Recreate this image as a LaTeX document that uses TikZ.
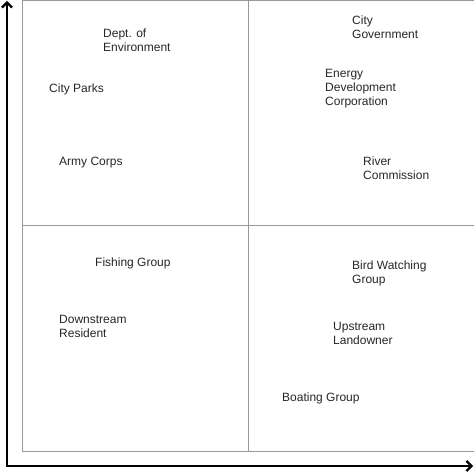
\documentclass[tikz,border=0pt]{standalone}
\usepackage{fontspec}
\usetikzlibrary{arrows.meta}
\setmainfont{Liberation Sans}
\begin{document}
\begin{tikzpicture}[x=1pt,y=-1pt,
  lbl/.style={align=left,anchor=north west,inner sep=0pt,font=\fontsize{12}{14}\selectfont,text=black!85},
  grid/.style={draw=black!40,line width=0.8pt},
  ax/.style={line width=2.2pt,-{Straight Barb[length=5pt,width=10pt]}}]
\useasboundingbox (0,0) rectangle (474,473);
\draw[grid] (22,0) rectangle (480,451);
\draw[grid] (248,0) -- (248,451);
\draw[grid] (22,225) -- (480,225);
\coordinate (o) at (7,466);
\coordinate (xe) at (473,466);
\coordinate (ye) at (7,1);
\draw[ax,line cap=butt] (7,465) -- (ye);
\draw[ax] (6,466) -- (xe);
\node[lbl] (a) at (103,29) {Dept. of\\Environment};
\node[lbl] (b) at (49,84) {City Parks};
\node[lbl] (c) at (59,157) {Army Corps};
\node[lbl] (d) at (352,16) {City\\Government};
\node[lbl] (e) at (325,69) {Energy\\Development\\Corporation};
\node[lbl] (f) at (363,157) {River\\Commission};
\node[lbl] (g) at (95,258) {Fishing Group};
\node[lbl] (h) at (59,315) {Downstream\\Resident};
\node[lbl] (i) at (352,261) {Bird Watching\\Group};
\node[lbl] (j) at (333,322) {Upstream\\Landowner};
\node[lbl] (k) at (282,393) {Boating Group};
\end{tikzpicture}
\end{document}
